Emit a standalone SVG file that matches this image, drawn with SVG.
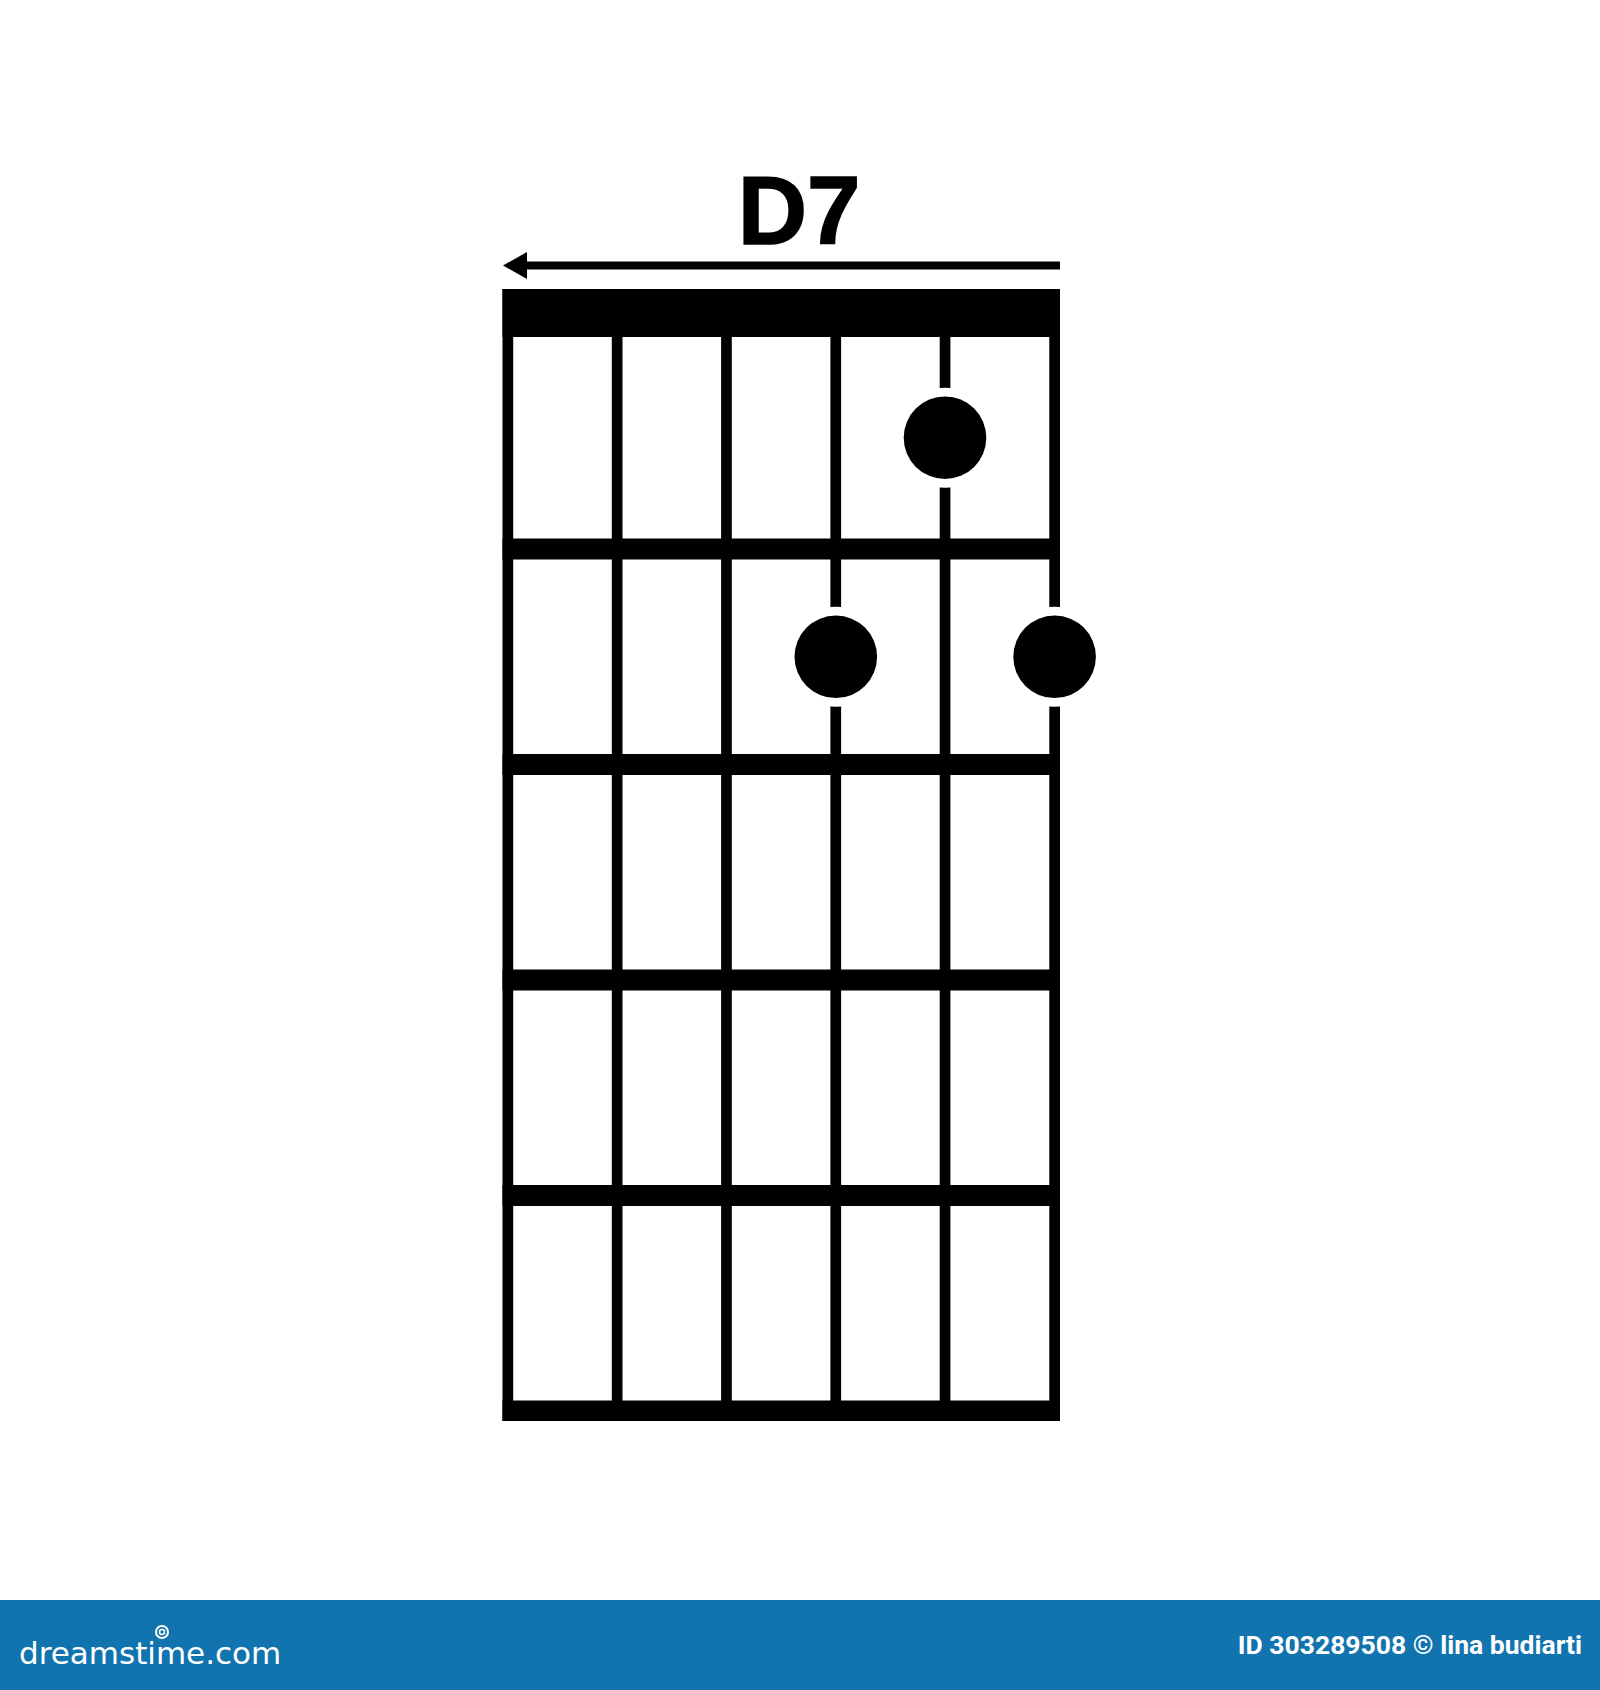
<svg xmlns="http://www.w3.org/2000/svg" width="1600" height="1690" viewBox="0 0 1600 1690">
  <style>
    .blk { fill: #000000; }
    .gap { fill: #ffffff; }
    .title { font-family: "Liberation Sans", Arial, sans-serif; font-weight: bold; font-size: 96px; fill: #000000; stroke: #000000; stroke-width: 1.5px; }
    .logo { font-family: "DejaVu Sans", sans-serif; font-size: 31px; fill: #ffffff; }
    .credit { font-family: Roboto, "Liberation Sans", sans-serif; font-weight: bold; font-size: 26.5px; fill: #ffffff; }
  </style>
  <defs>
    <marker id="head" markerUnits="userSpaceOnUse" markerWidth="24" markerHeight="27" viewBox="0 0 24 27" refX="0" refY="13.5" orient="auto">
      <path d="M0,0 L24,13.5 L0,27 Z" fill="#000000"/>
    </marker>
  </defs>
  <rect x="0" y="0" width="1600" height="1690" fill="#ffffff"/>

  <g id="title">
    <text class="title" x="799" y="244" text-anchor="middle">D7</text>
  </g>

  <g id="connectors">
    <line x1="1060" y1="265.5" x2="527" y2="265.5" stroke="#000000" stroke-width="8" marker-end="url(#head)"/>
  </g>

  <g id="nut">
    <rect class="blk" x="502.5" y="289" width="557.5" height="48"/>
  </g>

  <g id="strings">
    <rect class="blk" x="502.5" y="289" width="10.7" height="1132"/>
    <rect class="blk" x="611.8" y="289" width="10.7" height="1132"/>
    <rect class="blk" x="721.1" y="289" width="10.7" height="1132"/>
    <rect class="blk" x="830.4" y="289" width="10.7" height="1132"/>
    <rect class="blk" x="939.7" y="289" width="10.7" height="1132"/>
    <rect class="blk" x="1049.3" y="289" width="10.7" height="1132"/>
  </g>

  <g id="frets">
    <rect class="blk" x="502.5" y="538.5" width="557.5" height="21"/>
    <rect class="blk" x="502.5" y="754" width="557.5" height="21"/>
    <rect class="blk" x="502.5" y="969.5" width="557.5" height="21"/>
    <rect class="blk" x="502.5" y="1185" width="557.5" height="21"/>
    <rect class="blk" x="502.5" y="1400.5" width="557.5" height="20.5"/>
  </g>

  <g id="dot-1">
    <circle class="gap" cx="945" cy="437.7" r="50"/>
    <circle class="blk" cx="945" cy="437.7" r="41.3"/>
  </g>
  <g id="dot-2">
    <circle class="gap" cx="835.8" cy="656.8" r="50"/>
    <circle class="blk" cx="835.8" cy="656.8" r="41.3"/>
  </g>
  <g id="dot-3">
    <circle class="gap" cx="1054.6" cy="656.8" r="50"/>
    <circle class="blk" cx="1054.6" cy="656.8" r="41.3"/>
  </g>

  <g id="footer">
    <rect x="0" y="1600" width="1600" height="90" fill="#1174ae"/>
    <text class="logo" x="19" y="1664">dreamstime.com</text>
    <circle cx="162" cy="1632" r="6" fill="none" stroke="#ffffff" stroke-width="2"/>
    <circle cx="162" cy="1632" r="2.5" fill="none" stroke="#ffffff" stroke-width="1.5"/>
    <text class="credit" x="1582" y="1654" text-anchor="end">ID 303289508 © lina budiarti</text>
  </g>
</svg>
